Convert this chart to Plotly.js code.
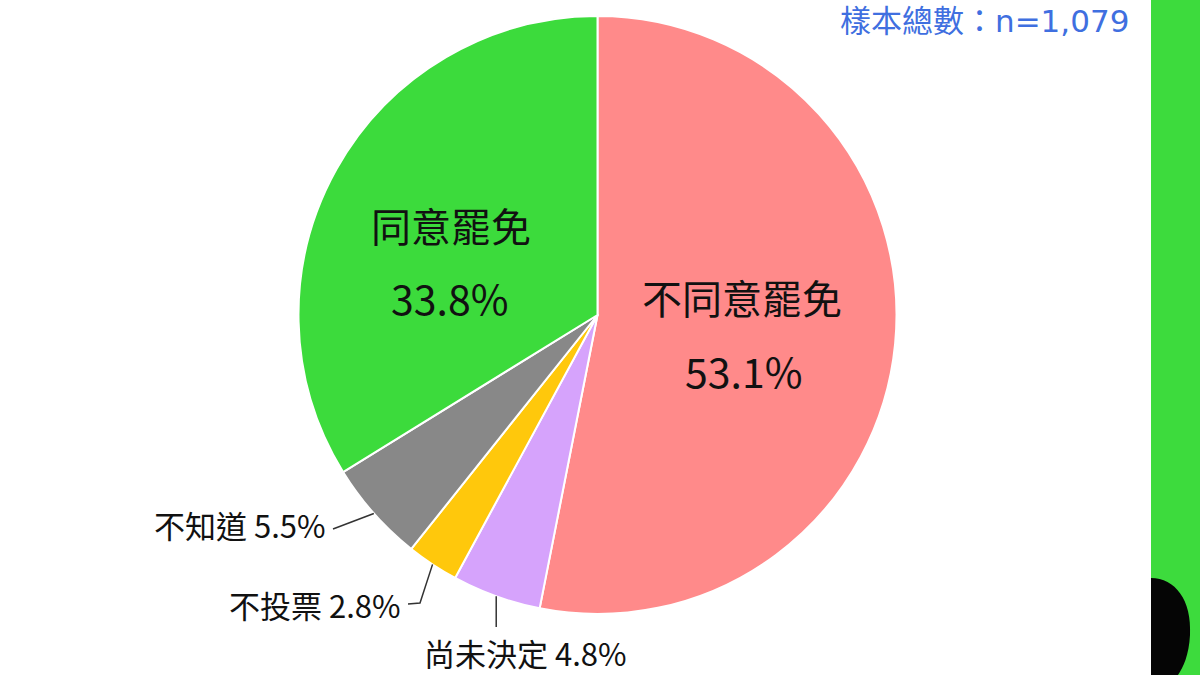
<!DOCTYPE html>
<html>
<head>
<meta charset="utf-8">
<script src="https://cdn.plot.ly/plotly-3.0.1.min.js"></script>
<style>
  html, body { margin: 0; padding: 0; background: #fff; }
  #chart { width: 1200px; height: 675px; }
</style>
</head>
<body>
<div id="chart"></div>
<script>
// survey result, clockwise from 12 o'clock
const labels = ["不同意罷免", "尚未決定", "不投票", "不知道", "同意罷免"];
const values = [53.1, 4.8, 2.8, 5.5, 33.8];
const colors = ["#ff8a8a", "#d6a3fc", "#ffc80c", "#888888", "#3cdb3c"];
const sampleNote = "樣本總數：n=1,079";

const W = 1200, H = 675;
const CX = 597.5, CY = 315, R = 299;
const CJK = "Noto Sans CJK TC, Noto Sans, sans-serif";

// pixel -> paper helpers
const px = x => x / W;
const py = y => 1 - y / H;

// point on the rim at the middle of slice i
function rimPoint(i) {
  const total = values.reduce((a, b) => a + b, 0);
  let before = 0;
  for (let k = 0; k < i; k++) before += values[k];
  const ang = (before + values[i] / 2) / total * 2 * Math.PI;
  return [CX + R * Math.sin(ang), CY - R * Math.cos(ang)];
}

const trace = {
  type: "pie",
  labels: labels,
  values: values,
  sort: false,
  direction: "clockwise",
  rotation: 0,
  marker: { colors: colors, line: { color: "#ffffff", width: 2 } },
  textinfo: "none",
  hoverinfo: "skip",
  showlegend: false,
  domain: { x: [px(CX - R), px(CX + R)], y: [py(CY + R), py(CY - R)] }
};

const annotations = [];
const shapes = [];

// big slices: name and share inside
const inside = [
  { i: 0, name: [742, 297], pct: [743, 370] },
  { i: 4, name: [451, 225], pct: [449, 297] }
];
for (const s of inside) {
  annotations.push({
    xref: "paper", yref: "paper", x: px(s.name[0]), y: py(s.name[1]),
    text: labels[s.i], showarrow: false, xanchor: "center", yanchor: "middle",
    font: { family: CJK, size: 40, color: "#111" }
  });
  annotations.push({
    xref: "paper", yref: "paper", x: px(s.pct[0]), y: py(s.pct[1]),
    text: values[s.i].toFixed(1) + "%", showarrow: false, xanchor: "center", yanchor: "middle",
    font: { family: CJK, size: 41, color: "#111" }
  });
}

// small slices: outside labels with leader lines
const outside = [
  { i: 3, at: [328, 524], anchor: "right", path: [[333, 529]] },
  { i: 2, at: [403, 604], anchor: "right", path: [[420, 603], [408, 604]] },
  { i: 1, at: [525, 652], anchor: "center", path: [[null, 627]] }
];
for (const o of outside) {
  annotations.push({
    xref: "paper", yref: "paper", x: px(o.at[0]), y: py(o.at[1]),
    text: labels[o.i] + " " + values[o.i].toFixed(1) + "%", showarrow: false,
    xanchor: o.anchor, yanchor: "middle",
    font: { family: CJK, size: 31, color: "#111" }
  });
  const p0 = rimPoint(o.i);
  let d = "M" + px(p0[0]) + "," + py(p0[1]);
  for (const p of o.path) {
    const x = p[0] === null ? p0[0] : p[0];
    d += " L" + px(x) + "," + py(p[1]);
  }
  shapes.push({ type: "path", xref: "paper", yref: "paper", path: d,
    line: { color: "#333", width: 1.5 } });
}

annotations.push({
  xref: "paper", yref: "paper", x: px(1131), y: py(21),
  text: sampleNote, showarrow: false, xanchor: "right", yanchor: "middle",
  font: { family: "DejaVu Sans, Noto Sans CJK TC, sans-serif", size: 31, color: "#3f6fe0" }
});

// green strip at the right edge of the frame, with the dark blob
shapes.push({ type: "rect", xref: "paper", yref: "paper",
  x0: px(1151), x1: 1, y0: 0, y1: 1, line: { width: 0 }, fillcolor: "#3ddb3d", layer: "below" });
shapes.push({ type: "path", xref: "paper", yref: "paper",
  path: "M" + px(1151) + "," + py(578) +
        " C" + px(1175) + "," + py(578) + " " + px(1192) + "," + py(600) + " " + px(1190) + "," + py(635) +
        " C" + px(1189) + "," + py(655) + " " + px(1183) + "," + py(668) + " " + px(1178) + "," + py(675) +
        " L" + px(1151) + "," + py(675) + " Z",
  line: { width: 0 }, fillcolor: "#050505" });

const layout = {
  width: W, height: H,
  margin: { l: 0, r: 0, t: 0, b: 0 },
  paper_bgcolor: "#ffffff",
  plot_bgcolor: "#ffffff",
  annotations: annotations,
  shapes: shapes
};

Plotly.newPlot("chart", [trace], layout, { displayModeBar: false, staticPlot: true });
</script>
</body>
</html>
